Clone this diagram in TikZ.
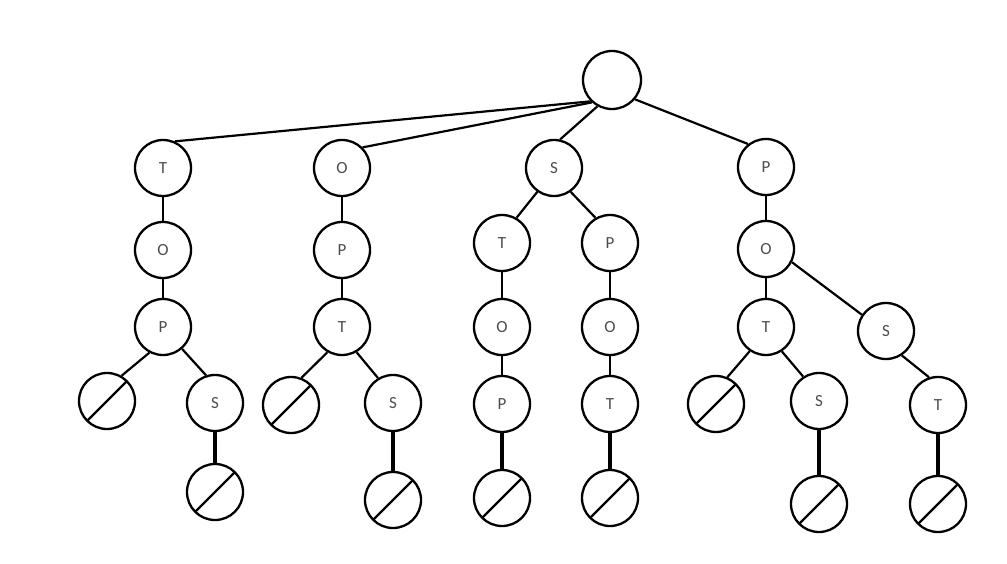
\documentclass[tikz,border=0pt]{standalone}
\usepackage{fontspec}
\newfontfamily\triefont{Carlito}
\usetikzlibrary{positioning}
\tikzset{basic/.style={draw,circle,line width=2.3pt,minimum size=56pt,inner sep=0pt,font=\triefont\fontsize{17}{17}\selectfont,text=black!70}}
\tikzset{letter/.style={basic}}
\tikzset{nil/.style={basic,path picture={\draw[line width=2.3pt] (path picture bounding box.south west) -- (path picture bounding box.north east);}}}
\tikzset{edge/.style={draw,line width=2.2pt}}
\tikzset{leaf/.style={draw,line width=4pt}}

\begin{document}
\begin{tikzpicture}[x=1pt,y=-1pt,on grid]
                \useasboundingbox (0,0) rectangle (1007,564);
                \node[basic,minimum size=58pt] (root) at (612,80) {};
                % T O P S
                \node[letter,below left=88pt and 449pt of root] (t) {T};
                    \path[edge] (root.225) -- (t.66);
                \node[letter,below=82pt of t] (to) {O};
                    \path[edge] (t) -- (to);
                \node[letter,below=77pt of to] (top) {P};
                    \path[edge] (to) -- (top);
                \node[nil,below left=74pt and 56pt of top] (topnil) {};
                    \path[edge] (top.242) -- (topnil.60);
                \node[letter,below right=76pt and 52pt of top] (tops) {S};
                    \path[edge] (top.311) -- (tops.108);
                \node[nil,below=89pt of tops] (topsnil) {};
                    \path[leaf] (tops) -- (topsnil);
                % O P T S
                \node[letter,below left=88pt and 270pt of root] (o) {O};
                    \path[edge] (root.228) -- (o.45);
                \node[letter,below=82pt of o] (op) {P};
                    \path[edge] (o) -- (op);
                \node[letter,below=77pt of op] (opt) {T};
                    \path[edge] (op) -- (opt);
                \node[nil,below left=78pt and 51pt of opt] (optnil) {};
                    \path[edge] (opt.240) -- (optnil.69);
                \node[letter,below right=76pt and 51pt of opt] (opts) {S};
                    \path[edge] (opt.300) -- (opts.121);
                \node[nil,below=97pt of opts] (optsnil) {};
                    \path[leaf] (opts) -- (optsnil);
                % S T O P, S P O T
                \node[letter,below left=88pt and 58pt of root] (s) {S};
                    \path[edge] (root.241) -- (s.78);
                \node[letter,below left=75pt and 52pt of s] (st) {T};
                    \path[edge] (s.235) -- (st.60);
                \node[letter,below right=75pt and 56pt of s] (sp) {P};
                    \path[edge] (s.305) -- (sp.120);
                \node[letter,below=84pt of st] (sto) {O};
                    \path[edge] (st) -- (sto);
                \node[letter,below=84pt of sp] (spo) {O};
                    \path[edge] (sp) -- (spo);
                \node[letter,below=77pt of sto] (stop) {P};
                    \path[edge] (sto) -- (stop);
                \node[letter,below=77pt of spo] (spot) {T};
                    \path[edge] (spo) -- (spot);
                \node[nil,below=94pt of stop] (stopnil) {};
                    \path[leaf] (stop) -- (stopnil);
                \node[nil,below=94pt of spot] (spotnil) {};
                    \path[leaf] (spot) -- (spotnil);
                % P O T S, P O S T
                \node[letter,below right=87pt and 154pt of root] (p) {P};
                    \path[edge] (root.320) -- (p.128);
                \node[letter,below=82pt of p] (po) {O};
                    \path[edge] (p) -- (po);
                \node[letter,below=78pt of po] (pot) {T};
                    \path[edge] (po) -- (pot);
                \node[letter,below right=82pt and 120pt of po] (pos) {S};
                    \path[edge] (po.333) -- (pos.146);
                \node[nil,below left=77pt and 50pt of pot] (potnil) {};
                    \path[edge] (pot.236) -- (potnil.67);
                \node[letter,below right=74pt and 53pt of pot] (pots) {S};
                    \path[edge] (pot.303) -- (pots.123);
                \node[letter,below right=74pt and 52pt of pos] (post) {T};
                    \path[edge] (pos.303) -- (post.108);
                \node[nil,below=103pt of pots] (potsnil) {};
                    \path[leaf] (pots) -- (potsnil);
                \node[nil,below=99pt of post] (postnil) {};
                    \path[leaf] (post) -- (postnil);
            \end{tikzpicture}
\end{document}
